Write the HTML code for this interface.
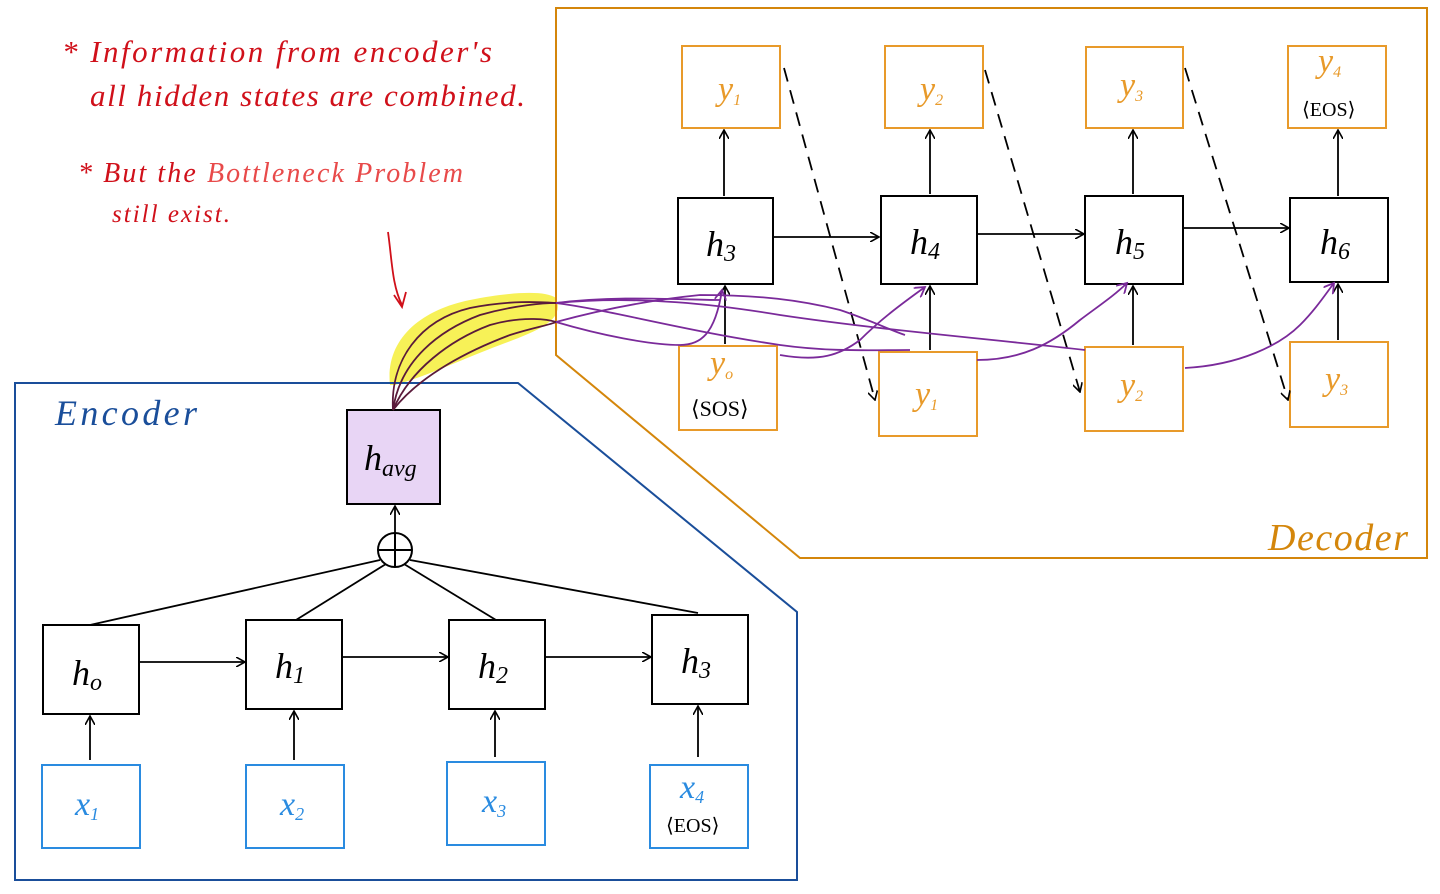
<!DOCTYPE html>
<html><head><meta charset="utf-8"><style>
body{margin:0;background:#fff;width:1440px;height:889px;overflow:hidden}
text{font-family:"Liberation Serif",serif;font-style:italic}
</style></head><body>
<svg width="1440" height="889" viewBox="0 0 1440 889" xmlns="http://www.w3.org/2000/svg">
<defs>
<marker id="a" markerWidth="10" markerHeight="10" refX="9" refY="5" orient="auto" markerUnits="userSpaceOnUse"><path d="M0,0 L9,5 L0,10" fill="none" stroke="#000" stroke-width="1.6"/></marker>
<marker id="p" markerWidth="12" markerHeight="12" refX="10" refY="6" orient="auto" markerUnits="userSpaceOnUse"><path d="M0,0 L10,6 L0,12" fill="none" stroke="#7a2a9a" stroke-width="1.8"/></marker>
</defs>
<path d="M390,385 C385,340 420,310 470,300 C510,292 545,290 556,298 C565,320 540,330 500,345 C460,360 430,375 395,385 Z" fill="#f6ee3a" opacity="0.85"/>
<g fill="#d0101a" font-size="31">
<text x="62" y="62" textLength="430">* Information from encoder's</text>
<text x="90" y="106" textLength="435">all hidden states are combined.</text>
<text x="78" y="182" font-size="28" textLength="385">* But the <tspan fill="#e84a4a">Bottleneck Problem</tspan></text>
<text x="112" y="222" font-size="25" textLength="118">still exist.</text>
</g>
<path d="M388,232 C392,260 392,285 402,305 M394,295 L402,307 L406,292" fill="none" stroke="#d0101a" stroke-width="1.8"/>
<path d="M15,383 L518,383 L797,612 L797,880 L15,880 Z" fill="none" stroke="#1a4e9a" stroke-width="2"/>
<text x="55" y="425" font-size="36" fill="#1a4e9a" textLength="142">Encoder</text>
<path d="M556,8 L1427,8 L1427,558 L800,558 L556,355 Z" fill="none" stroke="#d4860b" stroke-width="2"/>
<text x="1268" y="550" font-size="38" fill="#d4860b" textLength="140">Decoder</text>
<g fill="none" stroke="#000" stroke-width="2">
<rect x="43" y="625" width="96" height="89"/>
<rect x="246" y="620" width="96" height="89"/>
<rect x="449" y="620" width="96" height="89"/>
<rect x="652" y="615" width="96" height="89"/>
</g>
<rect x="347" y="410" width="93" height="94" fill="#e8d5f5" stroke="#000" stroke-width="2"/>
<circle cx="395" cy="550" r="17" fill="none" stroke="#000" stroke-width="2"/>
<path d="M378,550 H412 M395,533 V567" stroke="#000" stroke-width="2"/>
<g stroke="#000" stroke-width="1.8" fill="none">
<line x1="380" y1="560" x2="90" y2="625"/>
<line x1="386" y1="564" x2="296" y2="620"/>
<line x1="404" y1="564" x2="496" y2="620"/>
<line x1="410" y1="560" x2="698" y2="613"/>
<line x1="395" y1="533" x2="395" y2="506" marker-end="url(#a)"/>
<line x1="139" y1="662" x2="245" y2="662" marker-end="url(#a)"/>
<line x1="342" y1="657" x2="448" y2="657" marker-end="url(#a)"/>
<line x1="545" y1="657" x2="651" y2="657" marker-end="url(#a)"/>
<line x1="90" y1="760" x2="90" y2="716" marker-end="url(#a)"/>
<line x1="294" y1="760" x2="294" y2="711" marker-end="url(#a)"/>
<line x1="495" y1="757" x2="495" y2="711" marker-end="url(#a)"/>
<line x1="698" y1="757" x2="698" y2="706" marker-end="url(#a)"/>
</g>
<g fill="none" stroke="#2a8be0" stroke-width="2">
<rect x="42" y="765" width="98" height="83"/>
<rect x="246" y="765" width="98" height="83"/>
<rect x="447" y="762" width="98" height="83"/>
<rect x="650" y="765" width="98" height="83"/>
</g>
<g font-size="36" fill="#000">
<text x="72" y="685">h<tspan font-size="24" dy="5">o</tspan></text>
<text x="275" y="678">h<tspan font-size="24" dy="5">1</tspan></text>
<text x="478" y="678">h<tspan font-size="24" dy="5">2</tspan></text>
<text x="681" y="673">h<tspan font-size="24" dy="5">3</tspan></text>
<text x="364" y="470">h<tspan font-size="24" dy="6">avg</tspan></text>
</g>
<g font-size="34" fill="#2a8be0">
<text x="75" y="815">x<tspan font-size="18" dy="5">1</tspan></text>
<text x="280" y="815">x<tspan font-size="18" dy="5">2</tspan></text>
<text x="482" y="812">x<tspan font-size="18" dy="5">3</tspan></text>
<text x="680" y="798">x<tspan font-size="18" dy="5">4</tspan></text>
</g>
<text x="666" y="832" font-size="20" fill="#000" style="font-style:normal">⟨EOS⟩</text>
<g fill="none" stroke="#000" stroke-width="2">
<rect x="678" y="198" width="95" height="86"/>
<rect x="881" y="196" width="96" height="88"/>
<rect x="1085" y="196" width="98" height="88"/>
<rect x="1290" y="198" width="98" height="84"/>
</g>
<g font-size="36" fill="#000">
<text x="706" y="256">h<tspan font-size="24" dy="5">3</tspan></text>
<text x="910" y="254">h<tspan font-size="24" dy="5">4</tspan></text>
<text x="1115" y="254">h<tspan font-size="24" dy="5">5</tspan></text>
<text x="1320" y="254">h<tspan font-size="24" dy="5">6</tspan></text>
</g>
<g fill="none" stroke="#e89a2a" stroke-width="2">
<rect x="682" y="46" width="98" height="82"/>
<rect x="885" y="46" width="98" height="82"/>
<rect x="1086" y="47" width="97" height="81"/>
<rect x="1288" y="46" width="98" height="82"/>
<rect x="679" y="346" width="98" height="84"/>
<rect x="879" y="352" width="98" height="84"/>
<rect x="1085" y="347" width="98" height="84"/>
<rect x="1290" y="342" width="98" height="85"/>
</g>
<g font-size="34" fill="#e89a2a">
<text x="718" y="100">y<tspan font-size="16" dy="5">1</tspan></text>
<text x="920" y="100">y<tspan font-size="16" dy="5">2</tspan></text>
<text x="1120" y="96">y<tspan font-size="16" dy="5">3</tspan></text>
<text x="1318" y="72">y<tspan font-size="16" dy="5">4</tspan></text>
<text x="710" y="374">y<tspan font-size="16" dy="5">o</tspan></text>
<text x="915" y="405">y<tspan font-size="16" dy="5">1</tspan></text>
<text x="1120" y="396">y<tspan font-size="16" dy="5">2</tspan></text>
<text x="1325" y="390">y<tspan font-size="16" dy="5">3</tspan></text>
</g>
<text x="1302" y="116" font-size="20" fill="#000" style="font-style:normal">⟨EOS⟩</text>
<text x="691" y="416" font-size="22" fill="#000" style="font-style:normal">⟨SOS⟩</text>
<g stroke="#000" stroke-width="1.8" fill="none">
<line x1="773" y1="237" x2="879" y2="237" marker-end="url(#a)"/>
<line x1="977" y1="234" x2="1084" y2="234" marker-end="url(#a)"/>
<line x1="1183" y1="228" x2="1289" y2="228" marker-end="url(#a)"/>
<line x1="724" y1="196" x2="724" y2="130" marker-end="url(#a)"/>
<line x1="930" y1="194" x2="930" y2="130" marker-end="url(#a)"/>
<line x1="1133" y1="194" x2="1133" y2="130" marker-end="url(#a)"/>
<line x1="1338" y1="196" x2="1338" y2="130" marker-end="url(#a)"/>
<line x1="725" y1="344" x2="725" y2="286" marker-end="url(#a)"/>
<line x1="930" y1="350" x2="930" y2="286" marker-end="url(#a)"/>
<line x1="1133" y1="345" x2="1133" y2="286" marker-end="url(#a)"/>
<line x1="1338" y1="340" x2="1338" y2="284" marker-end="url(#a)"/>
<g stroke-dasharray="14,9">
<line x1="784" y1="68" x2="875" y2="400" marker-end="url(#a)"/>
<line x1="985" y1="70" x2="1080" y2="392" marker-end="url(#a)"/>
<line x1="1185" y1="68" x2="1288" y2="400" marker-end="url(#a)"/>
</g>
</g>
<g fill="none" stroke="#5a1a3a" stroke-width="1.8">
<path d="M393,410 C390,360 420,320 470,308 C510,300 540,302 556,303"/>
<path d="M393,410 C400,360 440,330 480,315 C515,305 545,303 556,303"/>
<path d="M393,410 C410,370 450,340 490,325 C525,315 550,320 556,322"/>
<path d="M393,410 C420,375 470,350 510,335 C535,327 550,325 556,322"/>
</g>
<g fill="none" stroke="#7a2a9a" stroke-width="1.8">
<path d="M556,303 C620,295 680,300 720,300"/>
<path d="M556,322 C600,310 650,300 700,295 C760,295 800,300 840,310 C870,320 890,330 905,335"/>
<path d="M556,303 C640,295 720,305 780,315 C880,330 1000,340 1085,350"/>
<path d="M556,322 C600,335 650,345 680,345 C700,345 715,335 722,290" marker-end="url(#p)"/>
<path d="M556,303 C610,310 680,330 780,345 C830,352 870,350 910,350"/>
<path d="M780,355 C820,362 840,355 860,340 C880,320 900,305 925,287" marker-end="url(#p)"/>
<path d="M977,360 C1020,360 1050,345 1080,320 C1100,305 1115,295 1127,283" marker-end="url(#p)"/>
<path d="M1185,368 C1240,365 1280,345 1300,325 C1315,310 1325,295 1334,283" marker-end="url(#p)"/>
</g>
</svg>
</body></html>
